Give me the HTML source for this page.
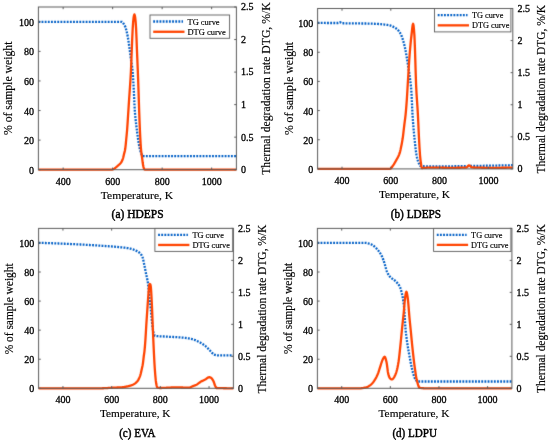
<!DOCTYPE html>
<html><head><meta charset="utf-8"><style>
html,body{margin:0;padding:0;background:#fff;}
svg{display:block;}
text{font-family:"Liberation Serif","Times New Roman",serif;fill:#000;stroke:#000;stroke-width:0.3px;}
text.cap{stroke-width:0.45px;}
text.lab{stroke-width:0.15px;}
</style></head><body>
<svg width="550" height="441" viewBox="0 0 550 441">
<defs><filter id="soft" x="0" y="0" width="550" height="441" filterUnits="userSpaceOnUse" color-interpolation-filters="sRGB"><feConvolveMatrix order="3" kernelMatrix="0.015 0.075 0.015 0.075 0.64 0.075 0.015 0.075 0.015" divisor="1" edgeMode="duplicate" preserveAlpha="true"/></filter></defs>
<g filter="url(#soft)">
<rect width="550" height="441" fill="#fff"/>
<clipPath id="clipa"><rect x="37.4" y="5.0" width="200.0" height="166.7"/></clipPath>
<g clip-path="url(#clipa)">
<path d="M38.40,21.80 L38.90,21.80 L39.40,21.80 L39.89,21.80 L40.39,21.80 L40.89,21.80 L41.39,21.80 L41.88,21.80 L42.38,21.80 L42.88,21.80 L43.38,21.80 L43.87,21.80 L44.37,21.80 L44.87,21.80 L45.37,21.80 L45.86,21.80 L46.36,21.80 L46.86,21.80 L47.36,21.80 L47.85,21.80 L48.35,21.80 L48.85,21.80 L49.35,21.80 L49.84,21.80 L50.34,21.80 L50.84,21.80 L51.34,21.80 L51.84,21.80 L52.33,21.80 L52.83,21.80 L53.33,21.80 L53.83,21.80 L54.32,21.80 L54.82,21.80 L55.32,21.80 L55.82,21.80 L56.31,21.80 L56.81,21.80 L57.31,21.80 L57.81,21.80 L58.30,21.80 L58.80,21.80 L59.30,21.80 L59.80,21.80 L60.29,21.80 L60.79,21.80 L61.29,21.80 L61.79,21.80 L62.29,21.80 L62.78,21.80 L63.28,21.80 L63.78,21.80 L64.28,21.80 L64.77,21.80 L65.27,21.80 L65.77,21.80 L66.27,21.80 L66.76,21.80 L67.26,21.80 L67.76,21.80 L68.26,21.80 L68.75,21.80 L69.25,21.80 L69.75,21.80 L70.25,21.80 L70.74,21.80 L71.24,21.80 L71.74,21.80 L72.24,21.80 L72.73,21.80 L73.23,21.80 L73.73,21.80 L74.23,21.80 L74.73,21.80 L75.22,21.80 L75.72,21.80 L76.22,21.80 L76.72,21.80 L77.21,21.80 L77.71,21.80 L78.21,21.80 L78.71,21.80 L79.20,21.80 L79.70,21.80 L80.20,21.80 L80.70,21.80 L81.19,21.80 L81.69,21.80 L82.19,21.80 L82.69,21.80 L83.18,21.80 L83.68,21.80 L84.18,21.80 L84.68,21.80 L85.17,21.80 L85.67,21.80 L86.17,21.80 L86.67,21.80 L87.17,21.80 L87.66,21.80 L88.16,21.80 L88.66,21.80 L89.16,21.80 L89.65,21.80 L90.15,21.80 L90.65,21.80 L91.15,21.80 L91.64,21.80 L92.14,21.80 L92.64,21.80 L93.14,21.80 L93.63,21.80 L94.13,21.80 L94.63,21.80 L95.13,21.80 L95.62,21.80 L96.12,21.80 L96.62,21.80 L97.12,21.80 L97.61,21.80 L98.11,21.80 L98.61,21.80 L99.11,21.80 L99.61,21.80 L100.10,21.80 L100.60,21.80 L101.10,21.80 L101.60,21.80 L102.09,21.80 L102.59,21.80 L103.09,21.80 L103.59,21.80 L104.08,21.80 L104.58,21.80 L105.08,21.80 L105.58,21.80 L106.07,21.80 L106.57,21.80 L107.07,21.80 L107.57,21.80 L108.06,21.80 L108.56,21.80 L109.06,21.80 L109.56,21.80 L110.06,21.80 L110.55,21.80 L111.05,21.80 L111.55,21.80 L112.05,21.80 L112.54,21.80 L113.04,21.80 L113.54,21.80 L114.04,21.80 L114.53,21.80 L115.03,21.80 L115.53,21.80 L116.03,21.80 L116.52,21.80 L117.02,21.80 L117.52,21.80 L118.02,21.80 L118.51,21.80 L119.01,21.80 L119.51,21.80 L120.01,21.80 L120.50,21.80 L121.00,21.80 L121.50,21.80 L121.97,21.91 L122.44,22.23 L122.91,22.71 L123.39,23.33 L123.86,24.06 L124.33,24.86 L124.80,25.70 L125.25,26.68 L125.70,27.98 L126.15,29.54 L126.60,31.31 L127.05,33.25 L127.50,35.30 L127.92,37.51 L128.34,40.12 L128.76,43.00 L129.18,46.00 L129.60,49.00 L130.05,52.34 L130.50,55.89 L130.95,59.40 L131.40,62.60 L131.85,65.12 L132.30,68.00 L132.80,73.57 L133.30,81.28 L133.80,90.00 L134.25,100.07 L134.70,109.30 L135.20,115.50 L135.70,120.45 L136.20,124.65 L136.70,128.60 L137.18,132.42 L137.67,136.11 L138.15,139.59 L138.63,142.77 L139.12,145.57 L139.60,147.90 L140.03,149.62 L140.45,151.14 L140.88,152.44 L141.30,153.50 L141.80,154.62 L142.30,155.56 L142.80,156.00 L143.24,156.07 L143.68,156.13 L144.12,156.17 L144.56,156.19 L145.00,156.20 L145.50,156.20 L146.00,156.20 L146.50,156.20 L147.00,156.20 L147.50,156.20 L148.00,156.20 L148.50,156.20 L149.00,156.20 L149.50,156.20 L149.99,156.20 L150.49,156.20 L150.99,156.20 L151.49,156.20 L151.99,156.20 L152.49,156.20 L152.99,156.20 L153.49,156.20 L153.99,156.20 L154.49,156.20 L154.99,156.20 L155.49,156.20 L155.99,156.20 L156.49,156.20 L156.99,156.20 L157.49,156.20 L157.99,156.20 L158.49,156.20 L158.98,156.20 L159.48,156.20 L159.98,156.20 L160.48,156.20 L160.98,156.20 L161.48,156.20 L161.98,156.20 L162.48,156.20 L162.98,156.20 L163.48,156.20 L163.98,156.20 L164.48,156.20 L164.98,156.20 L165.48,156.20 L165.98,156.20 L166.48,156.20 L166.98,156.20 L167.48,156.20 L167.97,156.20 L168.47,156.20 L168.97,156.20 L169.47,156.20 L169.97,156.20 L170.47,156.20 L170.97,156.20 L171.47,156.20 L171.97,156.20 L172.47,156.20 L172.97,156.20 L173.47,156.20 L173.97,156.20 L174.47,156.20 L174.97,156.20 L175.47,156.20 L175.97,156.20 L176.47,156.20 L176.97,156.20 L177.46,156.20 L177.96,156.20 L178.46,156.20 L178.96,156.20 L179.46,156.20 L179.96,156.20 L180.46,156.20 L180.96,156.20 L181.46,156.20 L181.96,156.20 L182.46,156.20 L182.96,156.20 L183.46,156.20 L183.96,156.20 L184.46,156.20 L184.96,156.20 L185.46,156.20 L185.96,156.20 L186.45,156.20 L186.95,156.20 L187.45,156.20 L187.95,156.20 L188.45,156.20 L188.95,156.20 L189.45,156.20 L189.95,156.20 L190.45,156.20 L190.95,156.20 L191.45,156.20 L191.95,156.20 L192.45,156.20 L192.95,156.20 L193.45,156.20 L193.95,156.20 L194.45,156.20 L194.95,156.20 L195.44,156.20 L195.94,156.20 L196.44,156.20 L196.94,156.20 L197.44,156.20 L197.94,156.20 L198.44,156.20 L198.94,156.20 L199.44,156.20 L199.94,156.20 L200.44,156.20 L200.94,156.20 L201.44,156.20 L201.94,156.20 L202.44,156.20 L202.94,156.20 L203.44,156.20 L203.94,156.20 L204.43,156.20 L204.93,156.20 L205.43,156.20 L205.93,156.20 L206.43,156.20 L206.93,156.20 L207.43,156.20 L207.93,156.20 L208.43,156.20 L208.93,156.20 L209.43,156.20 L209.93,156.20 L210.43,156.20 L210.93,156.20 L211.43,156.20 L211.93,156.20 L212.43,156.20 L212.93,156.20 L213.43,156.20 L213.92,156.20 L214.42,156.20 L214.92,156.20 L215.42,156.20 L215.92,156.20 L216.42,156.20 L216.92,156.20 L217.42,156.20 L217.92,156.20 L218.42,156.20 L218.92,156.20 L219.42,156.20 L219.92,156.20 L220.42,156.20 L220.92,156.20 L221.42,156.20 L221.92,156.20 L222.42,156.20 L222.91,156.20 L223.41,156.20 L223.91,156.20 L224.41,156.20 L224.91,156.20 L225.41,156.20 L225.91,156.20 L226.41,156.20 L226.91,156.20 L227.41,156.20 L227.91,156.20 L228.41,156.20 L228.91,156.20 L229.41,156.20 L229.91,156.20 L230.41,156.20 L230.91,156.20 L231.41,156.20 L231.90,156.20 L232.40,156.20 L232.90,156.20 L233.40,156.20 L233.90,156.20 L234.40,156.20 L234.90,156.20 L235.40,156.20 L235.90,156.20 L236.40,156.20" fill="none" stroke="#005fc6" stroke-width="2.3" stroke-dasharray="1.85 1.3"/>
<path d="M38.40,169.70 L38.90,169.70 L39.39,169.70 L39.89,169.70 L40.39,169.70 L40.89,169.70 L41.38,169.70 L41.88,169.70 L42.38,169.70 L42.88,169.70 L43.37,169.70 L43.87,169.70 L44.37,169.70 L44.86,169.70 L45.36,169.70 L45.86,169.70 L46.36,169.70 L46.85,169.70 L47.35,169.70 L47.85,169.70 L48.35,169.70 L48.84,169.70 L49.34,169.70 L49.84,169.70 L50.34,169.70 L50.83,169.70 L51.33,169.70 L51.83,169.70 L52.32,169.70 L52.82,169.70 L53.32,169.70 L53.82,169.70 L54.31,169.70 L54.81,169.70 L55.31,169.70 L55.81,169.70 L56.30,169.70 L56.80,169.70 L57.30,169.70 L57.79,169.70 L58.29,169.70 L58.79,169.70 L59.29,169.70 L59.78,169.70 L60.28,169.70 L60.78,169.70 L61.28,169.70 L61.77,169.70 L62.27,169.70 L62.77,169.70 L63.26,169.70 L63.76,169.70 L64.26,169.70 L64.76,169.70 L65.25,169.70 L65.75,169.70 L66.25,169.70 L66.75,169.70 L67.24,169.70 L67.74,169.70 L68.24,169.70 L68.74,169.70 L69.23,169.70 L69.73,169.70 L70.23,169.70 L70.72,169.70 L71.22,169.70 L71.72,169.70 L72.22,169.70 L72.71,169.70 L73.21,169.70 L73.71,169.70 L74.21,169.70 L74.70,169.70 L75.20,169.70 L75.70,169.70 L76.19,169.70 L76.69,169.70 L77.19,169.70 L77.69,169.70 L78.18,169.70 L78.68,169.70 L79.18,169.70 L79.68,169.70 L80.17,169.70 L80.67,169.70 L81.17,169.70 L81.66,169.70 L82.16,169.70 L82.66,169.70 L83.16,169.70 L83.65,169.70 L84.15,169.70 L84.65,169.70 L85.15,169.70 L85.64,169.70 L86.14,169.70 L86.64,169.70 L87.14,169.70 L87.63,169.70 L88.13,169.70 L88.63,169.70 L89.12,169.70 L89.62,169.70 L90.12,169.70 L90.62,169.70 L91.11,169.70 L91.61,169.70 L92.11,169.70 L92.61,169.70 L93.10,169.70 L93.60,169.70 L94.10,169.70 L94.59,169.70 L95.09,169.70 L95.59,169.70 L96.09,169.70 L96.58,169.70 L97.08,169.70 L97.58,169.70 L98.08,169.70 L98.57,169.70 L99.07,169.70 L99.57,169.70 L100.06,169.70 L100.56,169.70 L101.06,169.70 L101.56,169.70 L102.05,169.70 L102.55,169.70 L103.05,169.70 L103.55,169.70 L104.04,169.70 L104.54,169.70 L105.04,169.70 L105.54,169.70 L106.03,169.70 L106.53,169.70 L107.03,169.70 L107.52,169.70 L108.02,169.70 L108.52,169.70 L109.02,169.70 L109.51,169.70 L110.01,169.70 L110.51,169.70 L111.01,169.70 L111.50,169.70 L112.00,169.70 L112.37,169.61 L112.73,169.41 L113.10,169.20 L113.58,168.94 L114.06,168.66 L114.54,168.36 L115.02,168.04 L115.50,167.70 L115.97,167.35 L116.43,166.97 L116.90,166.57 L117.37,166.16 L117.83,165.73 L118.30,165.30 L118.78,164.87 L119.27,164.46 L119.75,164.03 L120.23,163.57 L120.72,163.03 L121.20,162.40 L121.62,161.70 L122.05,160.82 L122.48,159.78 L122.90,158.60 L123.30,157.20 L123.70,155.52 L124.10,153.80 L124.47,152.39 L124.83,150.95 L125.20,149.10 L125.70,144.81 L126.20,139.50 L126.65,135.01 L127.10,130.00 L127.60,122.86 L128.10,115.00 L128.47,109.32 L128.83,103.58 L129.20,98.00 L129.55,93.02 L129.90,88.00 L130.40,80.59 L130.90,72.00 L131.35,60.99 L131.80,49.00 L132.25,37.83 L132.70,28.50 L133.15,21.87 L133.60,17.50 L134.00,15.37 L134.40,14.40 L134.80,15.37 L135.20,17.50 L135.65,21.78 L136.10,28.50 L136.50,37.95 L136.90,49.00 L137.30,58.42 L137.70,68.00 L138.10,78.61 L138.50,90.00 L138.85,101.10 L139.20,112.00 L139.55,121.63 L139.90,130.00 L140.27,137.49 L140.63,144.08 L141.00,149.10 L141.40,152.83 L141.80,155.75 L142.20,158.60 L142.65,162.29 L143.10,165.30 L143.50,167.07 L143.90,168.47 L144.30,169.20 L144.70,169.46 L145.10,169.64 L145.50,169.70 L146.00,169.70 L146.50,169.70 L147.00,169.70 L147.50,169.70 L148.00,169.70 L148.50,169.70 L149.00,169.70 L149.50,169.70 L150.00,169.70 L150.49,169.70 L150.99,169.70 L151.49,169.70 L151.99,169.70 L152.49,169.70 L152.99,169.70 L153.49,169.70 L153.99,169.70 L154.49,169.70 L154.99,169.70 L155.49,169.70 L155.99,169.70 L156.49,169.70 L156.99,169.70 L157.49,169.70 L157.99,169.70 L158.49,169.70 L158.99,169.70 L159.48,169.70 L159.98,169.70 L160.48,169.70 L160.98,169.70 L161.48,169.70 L161.98,169.70 L162.48,169.70 L162.98,169.70 L163.48,169.70 L163.98,169.70 L164.48,169.70 L164.98,169.70 L165.48,169.70 L165.98,169.70 L166.48,169.70 L166.98,169.70 L167.48,169.70 L167.98,169.70 L168.47,169.70 L168.97,169.70 L169.47,169.70 L169.97,169.70 L170.47,169.70 L170.97,169.70 L171.47,169.70 L171.97,169.70 L172.47,169.70 L172.97,169.70 L173.47,169.70 L173.97,169.70 L174.47,169.70 L174.97,169.70 L175.47,169.70 L175.97,169.70 L176.47,169.70 L176.97,169.70 L177.46,169.70 L177.96,169.70 L178.46,169.70 L178.96,169.70 L179.46,169.70 L179.96,169.70 L180.46,169.70 L180.96,169.70 L181.46,169.70 L181.96,169.70 L182.46,169.70 L182.96,169.70 L183.46,169.70 L183.96,169.70 L184.46,169.70 L184.96,169.70 L185.46,169.70 L185.96,169.70 L186.45,169.70 L186.95,169.70 L187.45,169.70 L187.95,169.70 L188.45,169.70 L188.95,169.70 L189.45,169.70 L189.95,169.70 L190.45,169.70 L190.95,169.70 L191.45,169.70 L191.95,169.70 L192.45,169.70 L192.95,169.70 L193.45,169.70 L193.95,169.70 L194.45,169.70 L194.95,169.70 L195.45,169.70 L195.94,169.70 L196.44,169.70 L196.94,169.70 L197.44,169.70 L197.94,169.70 L198.44,169.70 L198.94,169.70 L199.44,169.70 L199.94,169.70 L200.44,169.70 L200.94,169.70 L201.44,169.70 L201.94,169.70 L202.44,169.70 L202.94,169.70 L203.44,169.70 L203.94,169.70 L204.44,169.70 L204.93,169.70 L205.43,169.70 L205.93,169.70 L206.43,169.70 L206.93,169.70 L207.43,169.70 L207.93,169.70 L208.43,169.70 L208.93,169.70 L209.43,169.70 L209.93,169.70 L210.43,169.70 L210.93,169.70 L211.43,169.70 L211.93,169.70 L212.43,169.70 L212.93,169.70 L213.43,169.70 L213.92,169.70 L214.42,169.70 L214.92,169.70 L215.42,169.70 L215.92,169.70 L216.42,169.70 L216.92,169.70 L217.42,169.70 L217.92,169.70 L218.42,169.70 L218.92,169.70 L219.42,169.70 L219.92,169.70 L220.42,169.70 L220.92,169.70 L221.42,169.70 L221.92,169.70 L222.42,169.70 L222.91,169.70 L223.41,169.70 L223.91,169.70 L224.41,169.70 L224.91,169.70 L225.41,169.70 L225.91,169.70 L226.41,169.70 L226.91,169.70 L227.41,169.70 L227.91,169.70 L228.41,169.70 L228.91,169.70 L229.41,169.70 L229.91,169.70 L230.41,169.70 L230.91,169.70 L231.41,169.70 L231.90,169.70 L232.40,169.70 L232.90,169.70 L233.40,169.70 L233.90,169.70 L234.40,169.70 L234.90,169.70 L235.40,169.70 L235.90,169.70 L236.40,169.70" fill="none" stroke="#ff4300" stroke-width="2.3" stroke-linejoin="round"/>
</g>
<rect x="38.40" y="7.00" width="198.00" height="162.70" fill="none" stroke="#5a5a5a" stroke-width="1"/>
<path d="M63.15,169.70v-2.2M63.15,7.00v2.2M112.65,169.70v-2.2M112.65,7.00v2.2M162.15,169.70v-2.2M162.15,7.00v2.2M211.65,169.70v-2.2M211.65,7.00v2.2M38.40,169.70h2.2M38.40,140.12h2.2M38.40,110.54h2.2M38.40,80.95h2.2M38.40,51.37h2.2M38.40,21.79h2.2M236.40,169.70h-2.2M236.40,137.16h-2.2M236.40,104.62h-2.2M236.40,72.08h-2.2M236.40,39.54h-2.2M236.40,7.00h-2.2" stroke="#5a5a5a" stroke-width="1" fill="none"/>
<rect x="150.00" y="15.00" width="79.60" height="23.30" fill="#fff" stroke="#5a5a5a" stroke-width="0.9"/>
<path d="M153.20,21.52H183.00" stroke="#005fc6" stroke-width="2.3" stroke-dasharray="1.85 1.3"/>
<path d="M153.20,31.78H184.50" stroke="#ff4300" stroke-width="2.3"/>
<clipPath id="clipb"><rect x="316.6" y="6.5" width="197.19999999999993" height="164.4"/></clipPath>
<g clip-path="url(#clipb)">
<path d="M317.60,22.90 L318.10,22.91 L318.60,22.91 L319.09,22.92 L319.59,22.93 L320.09,22.93 L320.59,22.94 L321.08,22.94 L321.58,22.95 L322.08,22.95 L322.58,22.96 L323.07,22.96 L323.57,22.96 L324.07,22.97 L324.57,22.97 L325.06,22.97 L325.56,22.98 L326.06,22.98 L326.56,22.98 L327.05,22.98 L327.55,22.99 L328.05,22.99 L328.55,22.99 L329.04,22.99 L329.54,22.99 L330.04,22.99 L330.54,23.00 L331.03,23.00 L331.53,23.00 L332.03,23.00 L332.53,23.00 L333.02,23.00 L333.52,23.00 L334.02,23.00 L334.52,23.00 L335.01,23.00 L335.51,23.00 L336.01,23.00 L336.51,23.00 L337.00,23.00 L337.50,23.00 L338.00,23.00 L338.50,22.89 L339.00,22.65 L339.50,22.41 L340.00,22.30 L340.50,22.44 L341.00,22.74 L341.50,23.05 L342.00,23.20 L342.50,23.22 L343.00,23.24 L343.50,23.25 L344.00,23.27 L344.50,23.28 L345.00,23.30 L345.50,23.31 L346.00,23.32 L346.50,23.33 L347.00,23.34 L347.50,23.35 L348.00,23.36 L348.50,23.37 L349.00,23.38 L349.50,23.39 L350.00,23.39 L350.50,23.40 L351.00,23.40 L351.50,23.41 L352.00,23.42 L352.50,23.42 L353.00,23.42 L353.50,23.43 L354.00,23.43 L354.50,23.43 L355.00,23.44 L355.50,23.44 L356.00,23.44 L356.50,23.45 L357.00,23.45 L357.50,23.45 L358.00,23.45 L358.50,23.46 L359.00,23.46 L359.50,23.46 L360.00,23.47 L360.50,23.47 L361.00,23.47 L361.50,23.48 L362.00,23.48 L362.50,23.48 L363.00,23.49 L363.50,23.49 L364.00,23.50 L364.50,23.50 L365.00,23.51 L365.50,23.51 L366.00,23.52 L366.50,23.53 L367.00,23.54 L367.50,23.55 L368.00,23.56 L368.50,23.57 L369.00,23.58 L369.50,23.59 L370.00,23.60 L370.49,23.61 L370.98,23.63 L371.47,23.64 L371.96,23.66 L372.45,23.68 L372.94,23.69 L373.43,23.71 L373.92,23.73 L374.41,23.76 L374.89,23.78 L375.38,23.81 L375.87,23.83 L376.36,23.86 L376.85,23.89 L377.34,23.92 L377.83,23.95 L378.32,23.98 L378.81,24.02 L379.30,24.06 L379.79,24.09 L380.28,24.13 L380.77,24.18 L381.26,24.22 L381.75,24.27 L382.24,24.31 L382.73,24.36 L383.22,24.41 L383.71,24.46 L384.19,24.52 L384.68,24.57 L385.17,24.63 L385.66,24.69 L386.15,24.76 L386.64,24.82 L387.13,24.89 L387.62,24.96 L388.11,25.03 L388.60,25.10 L389.09,25.19 L389.59,25.30 L390.08,25.43 L390.57,25.58 L391.07,25.75 L391.56,25.95 L392.05,26.16 L392.55,26.39 L393.04,26.63 L393.53,26.89 L394.03,27.17 L394.52,27.46 L395.01,27.76 L395.51,28.07 L396.00,28.40 L396.47,28.74 L396.94,29.12 L397.41,29.56 L397.88,30.04 L398.35,30.57 L398.82,31.15 L399.29,31.79 L399.76,32.47 L400.23,33.21 L400.70,34.00 L401.16,34.90 L401.62,35.98 L402.09,37.22 L402.55,38.60 L403.01,40.11 L403.47,41.72 L403.94,43.43 L404.40,45.20 L404.87,47.18 L405.33,49.43 L405.80,51.90 L406.27,54.53 L406.73,57.25 L407.20,60.00 L407.67,62.79 L408.13,65.67 L408.60,68.67 L409.07,71.81 L409.53,75.11 L410.00,78.60 L410.43,81.85 L410.87,85.41 L411.30,90.00 L411.70,97.21 L412.10,106.59 L412.50,114.60 L413.00,121.70 L413.50,127.84 L414.00,133.28 L414.50,138.30 L415.00,143.18 L415.50,147.81 L416.00,151.85 L416.50,155.00 L417.00,157.40 L417.50,159.44 L418.00,161.13 L418.50,162.50 L418.98,163.66 L419.45,164.74 L419.92,165.54 L420.40,165.90 L420.88,165.97 L421.36,166.04 L421.84,166.10 L422.32,166.15 L422.80,166.20 L423.28,166.24 L423.76,166.29 L424.24,166.32 L424.72,166.35 L425.20,166.38 L425.68,166.41 L426.16,166.43 L426.64,166.45 L427.12,166.46 L427.60,166.47 L428.08,166.48 L428.56,166.49 L429.04,166.50 L429.52,166.50 L430.00,166.50 L430.50,166.50 L431.00,166.50 L431.50,166.50 L432.00,166.50 L432.50,166.50 L433.00,166.50 L433.50,166.49 L434.00,166.49 L434.50,166.49 L435.00,166.49 L435.50,166.48 L436.00,166.48 L436.50,166.48 L437.00,166.47 L437.50,166.47 L438.00,166.47 L438.50,166.46 L439.00,166.46 L439.50,166.45 L440.00,166.45 L440.50,166.45 L441.00,166.44 L441.50,166.43 L442.00,166.43 L442.50,166.42 L443.00,166.42 L443.50,166.41 L444.00,166.41 L444.50,166.40 L445.00,166.39 L445.50,166.39 L446.00,166.38 L446.50,166.37 L447.00,166.37 L447.50,166.36 L448.00,166.35 L448.50,166.35 L449.00,166.34 L449.50,166.33 L450.00,166.32 L450.50,166.32 L451.00,166.31 L451.50,166.30 L452.00,166.29 L452.50,166.29 L453.00,166.28 L453.50,166.27 L454.00,166.26 L454.50,166.25 L455.00,166.25 L455.50,166.24 L456.00,166.23 L456.50,166.22 L457.00,166.21 L457.50,166.20 L458.00,166.20 L458.50,166.19 L459.00,166.18 L459.50,166.17 L460.00,166.16 L460.50,166.15 L461.00,166.15 L461.50,166.14 L462.00,166.13 L462.50,166.12 L463.00,166.11 L463.50,166.10 L464.00,166.10 L464.50,166.09 L465.00,166.08 L465.50,166.07 L466.00,166.06 L466.50,166.05 L467.00,166.05 L467.50,166.04 L468.00,166.03 L468.50,166.02 L469.00,166.02 L469.50,166.01 L470.00,166.00 L470.50,165.99 L471.00,165.99 L471.49,165.98 L471.99,165.97 L472.49,165.96 L472.99,165.95 L473.48,165.95 L473.98,165.94 L474.48,165.93 L474.98,165.92 L475.47,165.92 L475.97,165.91 L476.47,165.90 L476.97,165.89 L477.47,165.88 L477.96,165.87 L478.46,165.87 L478.96,165.86 L479.46,165.85 L479.95,165.84 L480.45,165.83 L480.95,165.82 L481.45,165.82 L481.94,165.81 L482.44,165.80 L482.94,165.79 L483.44,165.78 L483.93,165.77 L484.43,165.76 L484.93,165.76 L485.43,165.75 L485.93,165.74 L486.42,165.73 L486.92,165.72 L487.42,165.71 L487.92,165.70 L488.41,165.69 L488.91,165.68 L489.41,165.67 L489.91,165.67 L490.40,165.66 L490.90,165.65 L491.40,165.64 L491.90,165.63 L492.40,165.62 L492.89,165.61 L493.39,165.60 L493.89,165.59 L494.39,165.58 L494.88,165.57 L495.38,165.56 L495.88,165.55 L496.38,165.54 L496.87,165.53 L497.37,165.52 L497.87,165.51 L498.37,165.50 L498.87,165.49 L499.36,165.48 L499.86,165.47 L500.36,165.46 L500.86,165.45 L501.35,165.44 L501.85,165.43 L502.35,165.42 L502.85,165.41 L503.34,165.40 L503.84,165.39 L504.34,165.38 L504.84,165.37 L505.33,165.36 L505.83,165.35 L506.33,165.34 L506.83,165.33 L507.33,165.32 L507.82,165.31 L508.32,165.30 L508.82,165.29 L509.32,165.28 L509.81,165.26 L510.31,165.25 L510.81,165.24 L511.31,165.23 L511.80,165.22 L512.30,165.21 L512.80,165.20" fill="none" stroke="#005fc6" stroke-width="2.3" stroke-dasharray="1.85 1.3"/>
<path d="M317.60,168.90 L318.10,168.90 L318.60,168.90 L319.10,168.90 L319.59,168.90 L320.09,168.90 L320.59,168.90 L321.09,168.90 L321.59,168.90 L322.09,168.90 L322.59,168.90 L323.08,168.90 L323.58,168.90 L324.08,168.90 L324.58,168.90 L325.08,168.90 L325.58,168.90 L326.08,168.90 L326.58,168.90 L327.07,168.90 L327.57,168.90 L328.07,168.90 L328.57,168.90 L329.07,168.90 L329.57,168.90 L330.07,168.90 L330.56,168.90 L331.06,168.90 L331.56,168.90 L332.06,168.90 L332.56,168.90 L333.06,168.90 L333.56,168.90 L334.05,168.90 L334.55,168.90 L335.05,168.90 L335.55,168.90 L336.05,168.90 L336.55,168.90 L337.05,168.90 L337.54,168.90 L338.04,168.90 L338.54,168.90 L339.04,168.90 L339.54,168.90 L340.04,168.90 L340.54,168.90 L341.04,168.90 L341.53,168.90 L342.03,168.90 L342.53,168.90 L343.03,168.90 L343.53,168.90 L344.03,168.90 L344.53,168.90 L345.02,168.90 L345.52,168.90 L346.02,168.90 L346.52,168.90 L347.02,168.90 L347.52,168.90 L348.02,168.90 L348.51,168.90 L349.01,168.90 L349.51,168.90 L350.01,168.90 L350.51,168.90 L351.01,168.90 L351.51,168.90 L352.00,168.90 L352.50,168.90 L353.00,168.90 L353.50,168.90 L354.00,168.90 L354.50,168.90 L355.00,168.90 L355.50,168.90 L355.99,168.90 L356.49,168.90 L356.99,168.90 L357.49,168.90 L357.99,168.90 L358.49,168.90 L358.99,168.90 L359.48,168.90 L359.98,168.90 L360.48,168.90 L360.98,168.90 L361.48,168.90 L361.98,168.90 L362.48,168.90 L362.97,168.90 L363.47,168.90 L363.97,168.90 L364.47,168.90 L364.97,168.90 L365.47,168.90 L365.97,168.90 L366.46,168.90 L366.96,168.90 L367.46,168.90 L367.96,168.90 L368.46,168.90 L368.96,168.90 L369.46,168.90 L369.96,168.90 L370.45,168.90 L370.95,168.90 L371.45,168.90 L371.95,168.90 L372.45,168.90 L372.95,168.90 L373.45,168.90 L373.94,168.90 L374.44,168.90 L374.94,168.90 L375.44,168.90 L375.94,168.90 L376.44,168.90 L376.94,168.90 L377.43,168.90 L377.93,168.90 L378.43,168.90 L378.93,168.90 L379.43,168.90 L379.93,168.90 L380.43,168.90 L380.92,168.90 L381.42,168.90 L381.92,168.90 L382.42,168.90 L382.92,168.90 L383.42,168.90 L383.92,168.90 L384.42,168.90 L384.91,168.90 L385.41,168.90 L385.91,168.90 L386.41,168.90 L386.91,168.90 L387.41,168.90 L387.91,168.90 L388.40,168.90 L388.90,168.90 L389.40,168.90 L389.90,168.90 L390.38,168.76 L390.87,168.39 L391.35,167.86 L391.83,167.22 L392.32,166.55 L392.80,165.90 L393.30,165.22 L393.80,164.47 L394.30,163.65 L394.80,162.79 L395.30,161.90 L395.80,161.00 L396.29,160.14 L396.77,159.30 L397.26,158.44 L397.75,157.55 L398.24,156.59 L398.73,155.53 L399.21,154.35 L399.70,153.00 L400.10,151.61 L400.50,149.89 L400.90,147.97 L401.30,146.00 L401.77,143.67 L402.23,141.16 L402.70,138.30 L403.10,135.35 L403.50,131.96 L403.90,128.42 L404.30,125.00 L404.73,121.67 L405.17,118.38 L405.60,114.60 L406.00,110.35 L406.40,105.44 L406.80,100.00 L407.25,92.74 L407.70,85.00 L408.18,77.09 L408.65,69.14 L409.12,61.61 L409.60,55.00 L410.08,49.24 L410.55,43.99 L411.02,39.23 L411.50,35.00 L411.90,31.37 L412.30,27.73 L412.70,24.92 L413.10,23.80 L413.53,25.40 L413.97,29.48 L414.40,35.00 L414.85,45.72 L415.30,60.00 L415.70,73.20 L416.10,85.00 L416.55,93.71 L417.00,100.61 L417.45,107.10 L417.90,114.60 L418.27,122.29 L418.63,130.63 L419.00,138.30 L419.50,147.55 L420.00,155.00 L420.45,159.53 L420.90,163.00 L421.35,166.27 L421.80,168.00 L422.28,168.00 L422.76,167.98 L423.25,167.97 L423.73,167.94 L424.21,167.92 L424.69,167.89 L425.18,167.85 L425.66,167.82 L426.14,167.78 L426.62,167.75 L427.11,167.71 L427.59,167.68 L428.07,167.66 L428.55,167.63 L429.04,167.62 L429.52,167.60 L430.00,167.60 L430.50,167.60 L431.00,167.60 L431.50,167.60 L432.00,167.61 L432.50,167.61 L433.00,167.61 L433.50,167.62 L434.00,167.62 L434.50,167.63 L435.00,167.63 L435.50,167.64 L436.00,167.64 L436.50,167.65 L437.00,167.66 L437.50,167.66 L438.00,167.67 L438.50,167.68 L439.00,167.69 L439.50,167.69 L440.00,167.70 L440.50,167.71 L441.00,167.71 L441.50,167.72 L442.00,167.73 L442.50,167.74 L443.00,167.74 L443.50,167.75 L444.00,167.76 L444.50,167.76 L445.00,167.77 L445.50,167.77 L446.00,167.78 L446.50,167.78 L447.00,167.79 L447.50,167.79 L448.00,167.79 L448.50,167.80 L449.00,167.80 L449.50,167.80 L450.00,167.80 L450.50,167.80 L451.00,167.80 L451.50,167.80 L452.00,167.80 L452.50,167.80 L453.00,167.80 L453.50,167.79 L454.00,167.79 L454.50,167.79 L455.00,167.79 L455.50,167.78 L456.00,167.78 L456.50,167.78 L457.00,167.77 L457.50,167.77 L458.00,167.76 L458.50,167.76 L459.00,167.75 L459.50,167.74 L460.00,167.74 L460.50,167.73 L461.00,167.72 L461.50,167.71 L462.00,167.70 L462.50,167.69 L463.00,167.68 L463.50,167.67 L464.00,167.66 L464.50,167.64 L465.00,167.63 L465.50,167.62 L466.00,167.60 L466.50,167.43 L467.00,167.02 L467.50,166.49 L468.00,165.96 L468.50,165.56 L469.00,165.40 L469.50,165.54 L470.00,165.91 L470.50,166.38 L471.00,166.86 L471.50,167.23 L472.00,167.40 L472.50,167.43 L473.00,167.45 L473.50,167.48 L474.00,167.50 L474.50,167.52 L475.00,167.54 L475.50,167.57 L476.00,167.58 L476.50,167.60 L477.00,167.62 L477.50,167.64 L478.00,167.65 L478.50,167.67 L479.00,167.68 L479.50,167.69 L480.00,167.70 L480.50,167.71 L481.00,167.72 L481.50,167.73 L482.00,167.74 L482.50,167.75 L483.00,167.76 L483.50,167.76 L484.00,167.77 L484.50,167.78 L485.00,167.78 L485.50,167.78 L486.00,167.79 L486.50,167.79 L487.00,167.79 L487.50,167.80 L488.00,167.80 L488.50,167.80 L489.00,167.80 L489.50,167.80 L490.00,167.80 L490.50,167.80 L490.99,167.80 L491.49,167.80 L491.98,167.80 L492.48,167.80 L492.97,167.80 L493.47,167.80 L493.97,167.80 L494.46,167.80 L494.96,167.80 L495.45,167.80 L495.95,167.80 L496.44,167.80 L496.94,167.79 L497.43,167.79 L497.93,167.79 L498.43,167.79 L498.92,167.79 L499.42,167.79 L499.91,167.78 L500.41,167.78 L500.90,167.78 L501.40,167.77 L501.90,167.77 L502.39,167.77 L502.89,167.76 L503.38,167.76 L503.88,167.75 L504.37,167.75 L504.87,167.74 L505.37,167.74 L505.86,167.73 L506.36,167.73 L506.85,167.72 L507.35,167.71 L507.84,167.70 L508.34,167.70 L508.83,167.69 L509.33,167.68 L509.83,167.67 L510.32,167.66 L510.82,167.65 L511.31,167.64 L511.81,167.62 L512.30,167.61 L512.80,167.60" fill="none" stroke="#ff4300" stroke-width="2.3" stroke-linejoin="round"/>
</g>
<rect x="317.60" y="8.50" width="195.20" height="160.40" fill="none" stroke="#5a5a5a" stroke-width="1"/>
<path d="M342.00,168.90v-2.2M342.00,8.50v2.2M390.80,168.90v-2.2M390.80,8.50v2.2M439.60,168.90v-2.2M439.60,8.50v2.2M488.40,168.90v-2.2M488.40,8.50v2.2M317.60,168.90h2.2M317.60,139.74h2.2M317.60,110.57h2.2M317.60,81.41h2.2M317.60,52.25h2.2M317.60,23.08h2.2M512.80,168.90h-2.2M512.80,136.82h-2.2M512.80,104.74h-2.2M512.80,72.66h-2.2M512.80,40.58h-2.2M512.80,8.50h-2.2" stroke="#5a5a5a" stroke-width="1" fill="none"/>
<rect x="434.50" y="8.50" width="76.40" height="23.40" fill="#fff" stroke="#5a5a5a" stroke-width="0.9"/>
<path d="M437.70,15.05H467.50" stroke="#005fc6" stroke-width="2.3" stroke-dasharray="1.85 1.3"/>
<path d="M437.70,25.35H469.00" stroke="#ff4300" stroke-width="2.3"/>
<clipPath id="clipc"><rect x="37.6" y="226.4" width="196.8" height="163.9"/></clipPath>
<g clip-path="url(#clipc)">
<path d="M38.60,242.80 L39.10,242.81 L39.59,242.83 L40.09,242.84 L40.59,242.86 L41.09,242.87 L41.58,242.89 L42.08,242.90 L42.58,242.92 L43.08,242.93 L43.57,242.95 L44.07,242.97 L44.57,242.98 L45.06,243.00 L45.56,243.01 L46.06,243.03 L46.56,243.05 L47.05,243.07 L47.55,243.08 L48.05,243.10 L48.54,243.12 L49.04,243.13 L49.54,243.15 L50.04,243.17 L50.53,243.19 L51.03,243.21 L51.53,243.22 L52.03,243.24 L52.52,243.26 L53.02,243.28 L53.52,243.30 L54.01,243.32 L54.51,243.34 L55.01,243.36 L55.51,243.38 L56.00,243.39 L56.50,243.41 L57.00,243.43 L57.49,243.45 L57.99,243.47 L58.49,243.49 L58.99,243.51 L59.48,243.54 L59.98,243.56 L60.48,243.58 L60.98,243.60 L61.47,243.62 L61.97,243.64 L62.47,243.66 L62.96,243.68 L63.46,243.70 L63.96,243.72 L64.46,243.75 L64.95,243.77 L65.45,243.79 L65.95,243.81 L66.44,243.83 L66.94,243.86 L67.44,243.88 L67.94,243.90 L68.43,243.92 L68.93,243.95 L69.43,243.97 L69.93,243.99 L70.42,244.01 L70.92,244.04 L71.42,244.06 L71.91,244.08 L72.41,244.11 L72.91,244.13 L73.41,244.15 L73.90,244.18 L74.40,244.20 L74.90,244.22 L75.39,244.25 L75.89,244.27 L76.39,244.30 L76.89,244.32 L77.38,244.34 L77.88,244.37 L78.38,244.39 L78.88,244.42 L79.37,244.45 L79.87,244.47 L80.37,244.50 L80.86,244.52 L81.36,244.55 L81.86,244.57 L82.36,244.60 L82.85,244.63 L83.35,244.65 L83.85,244.68 L84.35,244.71 L84.84,244.74 L85.34,244.76 L85.84,244.79 L86.33,244.82 L86.83,244.85 L87.33,244.87 L87.83,244.90 L88.32,244.93 L88.82,244.96 L89.32,244.99 L89.82,245.02 L90.31,245.05 L90.81,245.08 L91.31,245.11 L91.80,245.14 L92.30,245.17 L92.80,245.20 L93.30,245.23 L93.79,245.26 L94.29,245.29 L94.79,245.32 L95.28,245.35 L95.78,245.38 L96.28,245.41 L96.78,245.44 L97.27,245.48 L97.77,245.51 L98.27,245.54 L98.77,245.57 L99.26,245.60 L99.76,245.64 L100.26,245.67 L100.75,245.70 L101.25,245.74 L101.75,245.77 L102.25,245.80 L102.74,245.84 L103.24,245.87 L103.74,245.90 L104.24,245.94 L104.73,245.97 L105.23,246.01 L105.73,246.04 L106.22,246.08 L106.72,246.11 L107.22,246.15 L107.72,246.18 L108.21,246.22 L108.71,246.25 L109.21,246.29 L109.71,246.33 L110.20,246.36 L110.70,246.40 L111.19,246.44 L111.68,246.47 L112.17,246.51 L112.66,246.55 L113.15,246.59 L113.64,246.62 L114.13,246.66 L114.62,246.70 L115.11,246.74 L115.59,246.78 L116.08,246.83 L116.57,246.87 L117.06,246.91 L117.55,246.96 L118.04,247.00 L118.53,247.05 L119.02,247.10 L119.51,247.15 L120.00,247.20 L120.48,247.25 L120.97,247.30 L121.45,247.35 L121.94,247.40 L122.42,247.45 L122.91,247.51 L123.39,247.56 L123.88,247.62 L124.36,247.67 L124.85,247.73 L125.33,247.79 L125.82,247.86 L126.30,247.93 L126.79,248.00 L127.27,248.07 L127.76,248.15 L128.25,248.23 L128.73,248.31 L129.21,248.40 L129.70,248.50 L130.18,248.60 L130.66,248.71 L131.14,248.83 L131.62,248.97 L132.11,249.11 L132.59,249.26 L133.07,249.42 L133.55,249.60 L134.03,249.78 L134.51,249.98 L134.99,250.19 L135.47,250.41 L135.96,250.64 L136.44,250.88 L136.92,251.13 L137.40,251.40 L137.88,251.68 L138.36,251.98 L138.84,252.30 L139.32,252.67 L139.80,253.08 L140.28,253.55 L140.76,254.09 L141.24,254.70 L141.72,255.40 L142.20,256.20 L142.67,257.49 L143.15,259.44 L143.62,261.73 L144.10,264.00 L144.57,266.27 L145.05,268.70 L145.53,271.18 L146.00,273.60 L146.50,275.87 L147.00,277.99 L147.50,280.34 L148.00,283.30 L148.43,287.22 L148.87,292.18 L149.30,296.80 L149.70,300.24 L150.10,303.38 L150.50,306.53 L150.90,310.00 L151.37,315.01 L151.83,320.45 L152.30,325.00 L152.70,328.03 L153.10,330.64 L153.50,332.50 L153.97,334.06 L154.43,335.27 L154.90,335.80 L155.40,335.88 L155.89,335.96 L156.39,336.03 L156.88,336.09 L157.38,336.14 L157.87,336.19 L158.37,336.23 L158.87,336.27 L159.36,336.30 L159.86,336.33 L160.35,336.35 L160.85,336.37 L161.34,336.39 L161.84,336.41 L162.33,336.43 L162.83,336.45 L163.33,336.46 L163.82,336.48 L164.32,336.50 L164.81,336.52 L165.31,336.54 L165.80,336.57 L166.30,336.60 L166.79,336.63 L167.29,336.66 L167.78,336.69 L168.28,336.72 L168.77,336.75 L169.26,336.78 L169.76,336.80 L170.25,336.83 L170.75,336.86 L171.24,336.88 L171.73,336.91 L172.23,336.93 L172.72,336.96 L173.22,336.98 L173.71,337.01 L174.20,337.03 L174.70,337.06 L175.19,337.08 L175.68,337.11 L176.18,337.14 L176.67,337.17 L177.17,337.20 L177.66,337.23 L178.15,337.26 L178.65,337.29 L179.14,337.32 L179.64,337.36 L180.13,337.39 L180.62,337.43 L181.12,337.47 L181.61,337.51 L182.11,337.56 L182.60,337.60 L183.09,337.65 L183.58,337.70 L184.07,337.75 L184.56,337.81 L185.05,337.87 L185.54,337.93 L186.03,338.00 L186.52,338.07 L187.01,338.14 L187.50,338.22 L187.99,338.30 L188.48,338.38 L188.97,338.47 L189.46,338.56 L189.95,338.66 L190.44,338.76 L190.93,338.86 L191.42,338.97 L191.91,339.08 L192.40,339.20 L192.87,339.32 L193.34,339.46 L193.81,339.62 L194.29,339.79 L194.76,339.98 L195.23,340.17 L195.70,340.38 L196.17,340.60 L196.64,340.82 L197.11,341.05 L197.59,341.28 L198.06,341.52 L198.53,341.76 L199.00,342.00 L199.50,342.26 L200.00,342.52 L200.50,342.80 L201.00,343.08 L201.50,343.37 L202.00,343.67 L202.50,343.98 L203.00,344.31 L203.50,344.64 L204.00,344.99 L204.50,345.35 L205.00,345.72 L205.50,346.10 L205.99,346.51 L206.48,346.95 L206.97,347.43 L207.46,347.93 L207.95,348.44 L208.44,348.97 L208.93,349.49 L209.42,350.01 L209.91,350.52 L210.40,351.00 L210.90,351.51 L211.40,352.06 L211.90,352.62 L212.40,353.17 L212.90,353.68 L213.40,354.12 L213.90,354.47 L214.40,354.70 L214.85,354.84 L215.30,354.97 L215.75,355.09 L216.20,355.19 L216.65,355.28 L217.10,355.34 L217.55,355.39 L218.00,355.40 L218.50,355.40 L218.99,355.40 L219.49,355.40 L219.99,355.40 L220.48,355.40 L220.98,355.40 L221.48,355.40 L221.97,355.40 L222.47,355.40 L222.97,355.40 L223.46,355.40 L223.96,355.40 L224.46,355.40 L224.95,355.40 L225.45,355.40 L225.95,355.40 L226.45,355.40 L226.94,355.40 L227.44,355.40 L227.94,355.40 L228.43,355.40 L228.93,355.40 L229.43,355.40 L229.92,355.40 L230.42,355.40 L230.92,355.40 L231.41,355.40 L231.91,355.40 L232.41,355.40 L232.90,355.40 L233.40,355.40" fill="none" stroke="#005fc6" stroke-width="2.3" stroke-dasharray="1.85 1.3"/>
<path d="M38.60,388.30 L39.10,388.30 L39.60,388.30 L40.10,388.30 L40.60,388.30 L41.10,388.30 L41.60,388.30 L42.09,388.30 L42.59,388.30 L43.09,388.30 L43.59,388.30 L44.09,388.30 L44.59,388.30 L45.09,388.30 L45.59,388.30 L46.09,388.30 L46.59,388.30 L47.09,388.30 L47.59,388.30 L48.08,388.30 L48.58,388.30 L49.08,388.30 L49.58,388.30 L50.08,388.30 L50.58,388.30 L51.08,388.30 L51.58,388.30 L52.08,388.30 L52.58,388.30 L53.08,388.30 L53.58,388.30 L54.07,388.30 L54.57,388.30 L55.07,388.30 L55.57,388.30 L56.07,388.30 L56.57,388.30 L57.07,388.30 L57.57,388.30 L58.07,388.30 L58.57,388.30 L59.07,388.30 L59.57,388.30 L60.07,388.30 L60.56,388.30 L61.06,388.30 L61.56,388.30 L62.06,388.30 L62.56,388.30 L63.06,388.30 L63.56,388.30 L64.06,388.30 L64.56,388.30 L65.06,388.30 L65.56,388.30 L66.06,388.30 L66.55,388.30 L67.05,388.30 L67.55,388.30 L68.05,388.30 L68.55,388.30 L69.05,388.30 L69.55,388.30 L70.05,388.30 L70.55,388.30 L71.05,388.30 L71.55,388.30 L72.05,388.30 L72.54,388.30 L73.04,388.30 L73.54,388.30 L74.04,388.30 L74.54,388.30 L75.04,388.30 L75.54,388.30 L76.04,388.30 L76.54,388.30 L77.04,388.30 L77.54,388.30 L78.04,388.30 L78.53,388.30 L79.03,388.30 L79.53,388.30 L80.03,388.30 L80.53,388.30 L81.03,388.30 L81.53,388.30 L82.03,388.30 L82.53,388.30 L83.03,388.30 L83.53,388.30 L84.03,388.30 L84.53,388.30 L85.02,388.30 L85.52,388.30 L86.02,388.30 L86.52,388.30 L87.02,388.30 L87.52,388.30 L88.02,388.30 L88.52,388.30 L89.02,388.30 L89.52,388.30 L90.02,388.30 L90.52,388.30 L91.01,388.30 L91.51,388.30 L92.01,388.30 L92.51,388.30 L93.01,388.30 L93.51,388.30 L94.01,388.30 L94.51,388.30 L95.01,388.30 L95.51,388.30 L96.01,388.30 L96.51,388.30 L97.00,388.30 L97.50,388.30 L98.00,388.30 L98.50,388.30 L99.00,388.30 L99.50,388.30 L100.00,388.30 L100.50,388.30 L101.00,388.29 L101.50,388.29 L102.00,388.28 L102.50,388.26 L103.00,388.25 L103.50,388.23 L104.00,388.21 L104.50,388.19 L105.00,388.17 L105.50,388.14 L106.00,388.12 L106.50,388.09 L107.00,388.06 L107.50,388.03 L108.00,388.00 L108.50,387.97 L109.00,387.94 L109.50,387.91 L110.00,387.88 L110.50,387.85 L111.00,387.82 L111.50,387.79 L112.00,387.76 L112.50,387.73 L113.00,387.70 L113.50,387.67 L114.00,387.65 L114.50,387.62 L115.00,387.60 L115.50,387.58 L116.00,387.56 L116.50,387.54 L117.00,387.52 L117.50,387.51 L118.00,387.49 L118.50,387.47 L119.00,387.45 L119.50,387.44 L120.00,387.41 L120.50,387.39 L121.00,387.36 L121.50,387.33 L122.00,387.30 L122.48,387.26 L122.96,387.21 L123.44,387.14 L123.92,387.07 L124.40,386.98 L124.88,386.89 L125.36,386.80 L125.84,386.70 L126.32,386.60 L126.80,386.50 L127.29,386.40 L127.78,386.29 L128.28,386.18 L128.77,386.06 L129.26,385.94 L129.75,385.81 L130.24,385.67 L130.73,385.52 L131.22,385.36 L131.72,385.19 L132.21,385.00 L132.70,384.80 L133.17,384.59 L133.64,384.34 L134.11,384.07 L134.58,383.77 L135.05,383.43 L135.52,383.06 L135.99,382.65 L136.46,382.20 L136.93,381.72 L137.40,381.20 L137.88,380.57 L138.37,379.79 L138.85,378.86 L139.33,377.80 L139.82,376.61 L140.30,375.30 L140.80,373.54 L141.30,371.33 L141.80,369.00 L142.17,367.37 L142.53,365.65 L142.90,363.60 L143.35,359.95 L143.80,356.00 L144.10,353.97 L144.40,351.80 L144.90,346.56 L145.40,340.00 L145.85,332.72 L146.30,325.00 L146.80,317.36 L147.30,310.00 L147.75,303.31 L148.20,297.00 L148.60,291.72 L149.00,287.50 L149.30,285.17 L149.60,284.00 L149.95,284.11 L150.30,284.40 L150.60,285.44 L150.90,287.50 L151.20,291.47 L151.50,297.00 L151.85,304.00 L152.20,312.00 L152.50,319.94 L152.80,328.00 L153.10,335.06 L153.40,341.70 L153.90,352.73 L154.40,362.50 L154.85,369.54 L155.30,375.30 L155.75,380.15 L156.20,383.60 L156.60,385.50 L157.00,386.95 L157.40,387.60 L157.83,387.73 L158.27,387.83 L158.70,387.91 L159.13,387.96 L159.57,387.99 L160.00,388.00 L160.50,388.00 L161.00,387.99 L161.50,387.98 L162.00,387.97 L162.50,387.96 L163.00,387.94 L163.50,387.92 L164.00,387.89 L164.50,387.87 L165.00,387.84 L165.50,387.82 L166.00,387.79 L166.50,387.76 L167.00,387.73 L167.50,387.70 L168.00,387.67 L168.50,387.64 L169.00,387.61 L169.50,387.58 L170.00,387.56 L170.50,387.53 L171.00,387.51 L171.50,387.48 L172.00,387.46 L172.50,387.44 L173.00,387.43 L173.50,387.42 L174.00,387.41 L174.50,387.40 L175.00,387.40 L175.49,387.40 L175.98,387.40 L176.47,387.41 L176.96,387.41 L177.45,387.42 L177.94,387.42 L178.43,387.43 L178.92,387.44 L179.41,387.45 L179.90,387.45 L180.39,387.46 L180.88,387.47 L181.37,387.48 L181.86,387.49 L182.34,387.51 L182.83,387.52 L183.32,387.53 L183.81,387.54 L184.30,387.55 L184.79,387.55 L185.28,387.56 L185.77,387.57 L186.26,387.58 L186.75,387.58 L187.24,387.59 L187.73,387.59 L188.22,387.60 L188.71,387.60 L189.20,387.60 L189.67,387.54 L190.13,387.40 L190.60,387.19 L191.07,386.95 L191.53,386.71 L192.00,386.50 L192.49,386.31 L192.98,386.12 L193.47,385.94 L193.96,385.75 L194.44,385.56 L194.93,385.37 L195.42,385.16 L195.91,384.94 L196.40,384.70 L196.86,384.45 L197.32,384.16 L197.78,383.85 L198.24,383.53 L198.70,383.19 L199.16,382.85 L199.62,382.51 L200.08,382.19 L200.54,381.88 L201.00,381.60 L201.46,381.35 L201.92,381.11 L202.38,380.89 L202.84,380.67 L203.30,380.46 L203.76,380.25 L204.22,380.03 L204.68,379.81 L205.14,379.56 L205.60,379.30 L206.08,378.97 L206.56,378.58 L207.04,378.19 L207.52,377.85 L208.00,377.60 L208.50,377.41 L209.00,377.26 L209.50,377.20 L210.00,377.29 L210.50,377.51 L211.00,377.80 L211.50,378.22 L212.00,378.81 L212.50,379.50 L212.87,380.07 L213.23,380.74 L213.60,381.50 L214.07,382.77 L214.53,384.25 L215.00,385.50 L215.50,386.61 L216.00,387.58 L216.50,388.00 L217.00,388.02 L217.49,388.05 L217.99,388.07 L218.49,388.09 L218.99,388.10 L219.48,388.12 L219.98,388.14 L220.48,388.15 L220.97,388.17 L221.47,388.18 L221.97,388.19 L222.46,388.21 L222.96,388.22 L223.46,388.23 L223.96,388.24 L224.45,388.24 L224.95,388.25 L225.45,388.26 L225.94,388.27 L226.44,388.27 L226.94,388.28 L227.44,388.28 L227.93,388.28 L228.43,388.29 L228.93,388.29 L229.42,388.29 L229.92,388.29 L230.42,388.30 L230.91,388.30 L231.41,388.30 L231.91,388.30 L232.41,388.30 L232.90,388.30 L233.40,388.30" fill="none" stroke="#ff4300" stroke-width="2.3" stroke-linejoin="round"/>
</g>
<rect x="38.60" y="228.40" width="194.80" height="159.90" fill="none" stroke="#5a5a5a" stroke-width="1"/>
<path d="M62.95,388.30v-2.2M62.95,228.40v2.2M111.65,388.30v-2.2M111.65,228.40v2.2M160.35,388.30v-2.2M160.35,228.40v2.2M209.05,388.30v-2.2M209.05,228.40v2.2M38.60,388.30h2.2M38.60,359.23h2.2M38.60,330.15h2.2M38.60,301.08h2.2M38.60,272.01h2.2M38.60,242.94h2.2M233.40,388.30h-2.2M233.40,356.32h-2.2M233.40,324.34h-2.2M233.40,292.36h-2.2M233.40,260.38h-2.2M233.40,228.40h-2.2" stroke="#5a5a5a" stroke-width="1" fill="none"/>
<rect x="154.90" y="228.40" width="77.80" height="23.00" fill="#fff" stroke="#5a5a5a" stroke-width="0.9"/>
<path d="M158.10,234.84H187.90" stroke="#005fc6" stroke-width="2.3" stroke-dasharray="1.85 1.3"/>
<path d="M158.10,244.96H189.40" stroke="#ff4300" stroke-width="2.3"/>
<clipPath id="clipd"><rect x="316.4" y="226.4" width="196.5" height="163.9"/></clipPath>
<g clip-path="url(#clipd)">
<path d="M317.40,242.80 L317.90,242.80 L318.40,242.80 L318.90,242.80 L319.40,242.80 L319.89,242.80 L320.39,242.80 L320.89,242.80 L321.39,242.80 L321.89,242.80 L322.39,242.80 L322.89,242.80 L323.39,242.80 L323.89,242.80 L324.39,242.80 L324.88,242.80 L325.38,242.80 L325.88,242.80 L326.38,242.80 L326.88,242.80 L327.38,242.80 L327.88,242.80 L328.38,242.80 L328.88,242.80 L329.37,242.80 L329.87,242.80 L330.37,242.80 L330.87,242.80 L331.37,242.80 L331.87,242.80 L332.37,242.80 L332.87,242.80 L333.37,242.80 L333.86,242.80 L334.36,242.80 L334.86,242.80 L335.36,242.80 L335.86,242.80 L336.36,242.80 L336.86,242.80 L337.36,242.80 L337.86,242.80 L338.36,242.80 L338.85,242.80 L339.35,242.80 L339.85,242.80 L340.35,242.80 L340.85,242.80 L341.35,242.80 L341.85,242.80 L342.35,242.80 L342.85,242.80 L343.34,242.80 L343.84,242.80 L344.34,242.80 L344.84,242.80 L345.34,242.80 L345.84,242.80 L346.34,242.80 L346.84,242.80 L347.34,242.80 L347.84,242.80 L348.33,242.80 L348.83,242.80 L349.33,242.80 L349.83,242.80 L350.33,242.80 L350.83,242.80 L351.33,242.80 L351.83,242.80 L352.33,242.80 L352.82,242.80 L353.32,242.80 L353.82,242.80 L354.32,242.80 L354.82,242.80 L355.32,242.80 L355.82,242.80 L356.32,242.80 L356.82,242.80 L357.31,242.80 L357.81,242.80 L358.31,242.80 L358.81,242.80 L359.31,242.80 L359.81,242.80 L360.31,242.80 L360.81,242.80 L361.31,242.80 L361.81,242.80 L362.30,242.80 L362.80,242.80 L363.30,242.80 L363.80,242.80 L364.30,242.80 L364.78,242.81 L365.26,242.84 L365.74,242.89 L366.22,242.96 L366.70,243.04 L367.18,243.14 L367.66,243.25 L368.14,243.37 L368.62,243.51 L369.10,243.66 L369.58,243.81 L370.06,243.98 L370.54,244.15 L371.02,244.32 L371.50,244.50 L372.00,244.72 L372.50,245.00 L373.00,245.32 L373.50,245.70 L374.00,246.11 L374.50,246.56 L375.00,247.03 L375.50,247.53 L376.00,248.04 L376.50,248.57 L377.00,249.10 L377.50,249.65 L378.00,250.23 L378.50,250.84 L379.00,251.50 L379.50,252.20 L380.00,252.95 L380.50,253.74 L381.00,254.59 L381.50,255.50 L381.97,256.45 L382.43,257.54 L382.90,258.73 L383.37,260.01 L383.83,261.34 L384.30,262.70 L384.75,264.14 L385.20,265.77 L385.65,267.47 L386.10,269.12 L386.55,270.60 L387.00,271.80 L387.45,272.78 L387.90,273.67 L388.35,274.48 L388.80,275.20 L389.25,275.84 L389.70,276.40 L390.20,276.94 L390.70,277.42 L391.20,277.84 L391.70,278.23 L392.20,278.59 L392.70,278.94 L393.20,279.28 L393.70,279.64 L394.20,280.02 L394.70,280.44 L395.20,280.90 L395.70,281.39 L396.20,281.87 L396.70,282.36 L397.20,282.88 L397.70,283.43 L398.20,284.05 L398.70,284.74 L399.20,285.52 L399.70,286.40 L400.16,287.43 L400.62,288.75 L401.08,290.31 L401.54,292.08 L402.00,294.00 L402.48,296.18 L402.95,298.71 L403.42,301.74 L403.90,305.40 L404.35,310.71 L404.80,317.87 L405.25,325.15 L405.70,330.80 L406.18,335.04 L406.65,338.82 L407.12,342.23 L407.60,345.33 L408.07,348.19 L408.55,350.89 L409.02,353.50 L409.50,356.10 L409.98,358.70 L410.45,361.25 L410.93,363.72 L411.40,366.09 L411.88,368.32 L412.35,370.38 L412.82,372.25 L413.30,373.90 L413.74,375.29 L414.18,376.60 L414.62,377.77 L415.06,378.75 L415.50,379.50 L415.92,380.08 L416.34,380.62 L416.76,381.07 L417.18,381.38 L417.60,381.50 L418.10,381.50 L418.59,381.50 L419.09,381.50 L419.58,381.50 L420.08,381.50 L420.58,381.50 L421.07,381.50 L421.57,381.50 L422.06,381.50 L422.56,381.50 L423.06,381.50 L423.55,381.50 L424.05,381.50 L424.54,381.50 L425.04,381.50 L425.54,381.50 L426.03,381.50 L426.53,381.50 L427.02,381.50 L427.52,381.50 L428.02,381.50 L428.51,381.50 L429.01,381.50 L429.50,381.50 L430.00,381.50 L430.50,381.50 L431.00,381.50 L431.50,381.50 L432.00,381.50 L432.50,381.50 L433.00,381.50 L433.50,381.50 L434.00,381.50 L434.49,381.50 L434.99,381.50 L435.49,381.50 L435.99,381.50 L436.49,381.50 L436.99,381.50 L437.49,381.50 L437.99,381.50 L438.49,381.50 L438.99,381.50 L439.49,381.50 L439.99,381.50 L440.49,381.50 L440.99,381.50 L441.49,381.50 L441.99,381.50 L442.48,381.50 L442.98,381.50 L443.48,381.50 L443.98,381.50 L444.48,381.50 L444.98,381.50 L445.48,381.50 L445.98,381.50 L446.48,381.50 L446.98,381.50 L447.48,381.50 L447.98,381.50 L448.48,381.50 L448.98,381.50 L449.48,381.50 L449.98,381.50 L450.48,381.50 L450.97,381.50 L451.47,381.50 L451.97,381.50 L452.47,381.50 L452.97,381.50 L453.47,381.50 L453.97,381.50 L454.47,381.50 L454.97,381.50 L455.47,381.50 L455.97,381.50 L456.47,381.50 L456.97,381.50 L457.47,381.50 L457.97,381.50 L458.47,381.50 L458.96,381.50 L459.46,381.50 L459.96,381.50 L460.46,381.50 L460.96,381.50 L461.46,381.50 L461.96,381.50 L462.46,381.50 L462.96,381.50 L463.46,381.50 L463.96,381.50 L464.46,381.50 L464.96,381.50 L465.46,381.50 L465.96,381.50 L466.46,381.50 L466.95,381.50 L467.45,381.50 L467.95,381.50 L468.45,381.50 L468.95,381.50 L469.45,381.50 L469.95,381.50 L470.45,381.50 L470.95,381.50 L471.45,381.50 L471.95,381.50 L472.45,381.50 L472.95,381.50 L473.45,381.50 L473.95,381.50 L474.45,381.50 L474.95,381.50 L475.44,381.50 L475.94,381.50 L476.44,381.50 L476.94,381.50 L477.44,381.50 L477.94,381.50 L478.44,381.50 L478.94,381.50 L479.44,381.50 L479.94,381.50 L480.44,381.50 L480.94,381.50 L481.44,381.50 L481.94,381.50 L482.44,381.50 L482.94,381.50 L483.43,381.50 L483.93,381.50 L484.43,381.50 L484.93,381.50 L485.43,381.50 L485.93,381.50 L486.43,381.50 L486.93,381.50 L487.43,381.50 L487.93,381.50 L488.43,381.50 L488.93,381.50 L489.43,381.50 L489.93,381.50 L490.43,381.50 L490.93,381.50 L491.42,381.50 L491.92,381.50 L492.42,381.50 L492.92,381.50 L493.42,381.50 L493.92,381.50 L494.42,381.50 L494.92,381.50 L495.42,381.50 L495.92,381.50 L496.42,381.50 L496.92,381.50 L497.42,381.50 L497.92,381.50 L498.42,381.50 L498.92,381.50 L499.42,381.50 L499.91,381.50 L500.41,381.50 L500.91,381.50 L501.41,381.50 L501.91,381.50 L502.41,381.50 L502.91,381.50 L503.41,381.50 L503.91,381.50 L504.41,381.50 L504.91,381.50 L505.41,381.50 L505.91,381.50 L506.41,381.50 L506.91,381.50 L507.41,381.50 L507.90,381.50 L508.40,381.50 L508.90,381.50 L509.40,381.50 L509.90,381.50 L510.40,381.50 L510.90,381.50 L511.40,381.50 L511.90,381.50" fill="none" stroke="#005fc6" stroke-width="2.3" stroke-dasharray="1.85 1.3"/>
<path d="M317.40,388.30 L317.90,388.30 L318.39,388.30 L318.89,388.30 L319.38,388.30 L319.88,388.30 L320.37,388.30 L320.87,388.30 L321.36,388.30 L321.86,388.30 L322.35,388.30 L322.85,388.30 L323.34,388.30 L323.84,388.30 L324.33,388.30 L324.83,388.30 L325.33,388.30 L325.82,388.30 L326.32,388.30 L326.81,388.30 L327.31,388.30 L327.80,388.30 L328.30,388.30 L328.79,388.30 L329.29,388.30 L329.78,388.30 L330.28,388.30 L330.77,388.30 L331.27,388.30 L331.77,388.30 L332.26,388.30 L332.76,388.30 L333.25,388.30 L333.75,388.30 L334.24,388.30 L334.74,388.30 L335.23,388.30 L335.73,388.30 L336.22,388.30 L336.72,388.30 L337.21,388.30 L337.71,388.30 L338.20,388.30 L338.70,388.30 L339.20,388.30 L339.69,388.30 L340.19,388.30 L340.68,388.30 L341.18,388.30 L341.67,388.30 L342.17,388.30 L342.66,388.30 L343.16,388.30 L343.65,388.30 L344.15,388.30 L344.64,388.30 L345.14,388.30 L345.63,388.30 L346.13,388.30 L346.63,388.30 L347.12,388.30 L347.62,388.30 L348.11,388.30 L348.61,388.30 L349.10,388.30 L349.60,388.30 L350.09,388.30 L350.59,388.30 L351.08,388.30 L351.58,388.30 L352.07,388.30 L352.57,388.30 L353.07,388.30 L353.56,388.30 L354.06,388.30 L354.55,388.30 L355.05,388.30 L355.54,388.30 L356.04,388.30 L356.53,388.30 L357.03,388.30 L357.52,388.30 L358.02,388.30 L358.51,388.30 L359.01,388.30 L359.50,388.30 L360.00,388.30 L360.49,388.29 L360.98,388.27 L361.48,388.23 L361.97,388.17 L362.46,388.11 L362.95,388.03 L363.44,387.94 L363.93,387.85 L364.42,387.74 L364.92,387.63 L365.41,387.52 L365.90,387.40 L366.38,387.27 L366.86,387.10 L367.34,386.90 L367.82,386.67 L368.30,386.41 L368.78,386.13 L369.26,385.82 L369.74,385.50 L370.22,385.16 L370.70,384.80 L371.17,384.41 L371.64,383.97 L372.11,383.48 L372.58,382.93 L373.05,382.35 L373.52,381.72 L373.99,381.06 L374.46,380.36 L374.93,379.64 L375.40,378.90 L375.83,378.17 L376.27,377.36 L376.70,376.49 L377.13,375.55 L377.57,374.55 L378.00,373.50 L378.42,372.37 L378.84,371.10 L379.26,369.76 L379.68,368.41 L380.10,367.10 L380.58,365.60 L381.06,364.03 L381.54,362.51 L382.02,361.13 L382.50,360.00 L382.92,359.11 L383.34,358.22 L383.76,357.45 L384.18,356.91 L384.60,356.70 L385.08,357.17 L385.55,358.41 L386.02,360.11 L386.50,362.00 L386.95,364.62 L387.40,368.21 L387.85,371.75 L388.30,374.20 L388.77,375.75 L389.25,377.05 L389.73,378.02 L390.20,378.60 L390.65,378.91 L391.10,379.17 L391.55,379.34 L392.00,379.40 L392.50,379.22 L393.00,378.75 L393.50,378.10 L394.00,377.40 L394.50,376.60 L395.00,375.59 L395.50,374.39 L396.00,373.02 L396.50,371.50 L397.00,369.69 L397.50,367.49 L398.00,364.92 L398.50,362.00 L398.92,359.06 L399.34,355.55 L399.76,351.65 L400.18,347.57 L400.60,343.50 L401.00,339.51 L401.40,335.30 L401.80,331.07 L402.20,327.00 L402.70,322.30 L403.20,317.75 L403.70,313.00 L404.20,307.32 L404.70,301.41 L405.20,297.00 L405.60,294.53 L406.00,292.53 L406.40,291.70 L406.80,292.53 L407.20,294.54 L407.60,297.00 L408.08,300.98 L408.55,306.46 L409.02,312.46 L409.50,318.00 L410.00,323.08 L410.50,328.00 L411.00,333.00 L411.50,338.32 L412.00,343.50 L412.43,347.67 L412.87,351.76 L413.30,355.72 L413.73,359.49 L414.17,363.04 L414.60,366.30 L415.10,369.89 L415.60,373.38 L416.10,376.59 L416.60,379.35 L417.10,381.50 L417.60,383.28 L418.10,384.95 L418.60,386.37 L419.10,387.37 L419.60,387.80 L420.09,387.89 L420.58,387.98 L421.07,388.05 L421.56,388.11 L422.05,388.16 L422.55,388.21 L423.04,388.24 L423.53,388.27 L424.02,388.29 L424.51,388.30 L425.00,388.30 L425.50,388.30 L426.00,388.30 L426.50,388.30 L427.00,388.30 L427.50,388.30 L428.00,388.30 L428.50,388.30 L429.00,388.30 L429.49,388.30 L429.99,388.30 L430.49,388.30 L430.99,388.30 L431.49,388.30 L431.99,388.30 L432.49,388.30 L432.99,388.30 L433.49,388.30 L433.99,388.30 L434.49,388.30 L434.99,388.30 L435.49,388.30 L435.99,388.30 L436.49,388.30 L436.99,388.30 L437.49,388.30 L437.99,388.30 L438.48,388.30 L438.98,388.30 L439.48,388.30 L439.98,388.30 L440.48,388.30 L440.98,388.30 L441.48,388.30 L441.98,388.30 L442.48,388.30 L442.98,388.30 L443.48,388.30 L443.98,388.30 L444.48,388.30 L444.98,388.30 L445.48,388.30 L445.98,388.30 L446.48,388.30 L446.97,388.30 L447.47,388.30 L447.97,388.30 L448.47,388.30 L448.97,388.30 L449.47,388.30 L449.97,388.30 L450.47,388.30 L450.97,388.30 L451.47,388.30 L451.97,388.30 L452.47,388.30 L452.97,388.30 L453.47,388.30 L453.97,388.30 L454.47,388.30 L454.97,388.30 L455.46,388.30 L455.96,388.30 L456.46,388.30 L456.96,388.30 L457.46,388.30 L457.96,388.30 L458.46,388.30 L458.96,388.30 L459.46,388.30 L459.96,388.30 L460.46,388.30 L460.96,388.30 L461.46,388.30 L461.96,388.30 L462.46,388.30 L462.96,388.30 L463.46,388.30 L463.96,388.30 L464.45,388.30 L464.95,388.30 L465.45,388.30 L465.95,388.30 L466.45,388.30 L466.95,388.30 L467.45,388.30 L467.95,388.30 L468.45,388.30 L468.95,388.30 L469.45,388.30 L469.95,388.30 L470.45,388.30 L470.95,388.30 L471.45,388.30 L471.95,388.30 L472.45,388.30 L472.94,388.30 L473.44,388.30 L473.94,388.30 L474.44,388.30 L474.94,388.30 L475.44,388.30 L475.94,388.30 L476.44,388.30 L476.94,388.30 L477.44,388.30 L477.94,388.30 L478.44,388.30 L478.94,388.30 L479.44,388.30 L479.94,388.30 L480.44,388.30 L480.94,388.30 L481.44,388.30 L481.93,388.30 L482.43,388.30 L482.93,388.30 L483.43,388.30 L483.93,388.30 L484.43,388.30 L484.93,388.30 L485.43,388.30 L485.93,388.30 L486.43,388.30 L486.93,388.30 L487.43,388.30 L487.93,388.30 L488.43,388.30 L488.93,388.30 L489.43,388.30 L489.93,388.30 L490.42,388.30 L490.92,388.30 L491.42,388.30 L491.92,388.30 L492.42,388.30 L492.92,388.30 L493.42,388.30 L493.92,388.30 L494.42,388.30 L494.92,388.30 L495.42,388.30 L495.92,388.30 L496.42,388.30 L496.92,388.30 L497.42,388.30 L497.92,388.30 L498.42,388.30 L498.91,388.30 L499.41,388.30 L499.91,388.30 L500.41,388.30 L500.91,388.30 L501.41,388.30 L501.91,388.30 L502.41,388.30 L502.91,388.30 L503.41,388.30 L503.91,388.30 L504.41,388.30 L504.91,388.30 L505.41,388.30 L505.91,388.30 L506.41,388.30 L506.91,388.30 L507.41,388.30 L507.90,388.30 L508.40,388.30 L508.90,388.30 L509.40,388.30 L509.90,388.30 L510.40,388.30 L510.90,388.30 L511.40,388.30 L511.90,388.30" fill="none" stroke="#ff4300" stroke-width="2.3" stroke-linejoin="round"/>
</g>
<rect x="317.40" y="228.40" width="194.50" height="159.90" fill="none" stroke="#5a5a5a" stroke-width="1"/>
<path d="M341.71,388.30v-2.2M341.71,228.40v2.2M390.34,388.30v-2.2M390.34,228.40v2.2M438.96,388.30v-2.2M438.96,228.40v2.2M487.59,388.30v-2.2M487.59,228.40v2.2M317.40,388.30h2.2M317.40,359.23h2.2M317.40,330.15h2.2M317.40,301.08h2.2M317.40,272.01h2.2M317.40,242.94h2.2M511.90,388.30h-2.2M511.90,356.32h-2.2M511.90,324.34h-2.2M511.90,292.36h-2.2M511.90,260.38h-2.2M511.90,228.40h-2.2" stroke="#5a5a5a" stroke-width="1" fill="none"/>
<rect x="433.60" y="228.40" width="77.30" height="23.00" fill="#fff" stroke="#5a5a5a" stroke-width="0.9"/>
<path d="M436.80,234.84H466.60" stroke="#005fc6" stroke-width="2.3" stroke-dasharray="1.85 1.3"/>
<path d="M436.80,244.96H468.10" stroke="#ff4300" stroke-width="2.3"/>
</g>
<g class="txt">
<text x="187.50" y="24.52" font-size="8.45" text-anchor="start" class="lab">TG curve</text>
<text x="187.50" y="34.78" font-size="8.45" text-anchor="start" class="lab">DTG curve</text>
<text x="63.15" y="184.60" font-size="10" text-anchor="middle" >400</text>
<text x="112.65" y="184.60" font-size="10" text-anchor="middle" >600</text>
<text x="162.15" y="184.60" font-size="10" text-anchor="middle" >800</text>
<text x="211.65" y="184.60" font-size="10" text-anchor="middle" >1000</text>
<text x="34.10" y="173.70" font-size="10" text-anchor="end" >0</text>
<text x="34.10" y="144.12" font-size="10" text-anchor="end" >20</text>
<text x="34.10" y="114.54" font-size="10" text-anchor="end" >40</text>
<text x="34.10" y="84.95" font-size="10" text-anchor="end" >60</text>
<text x="34.10" y="55.37" font-size="10" text-anchor="end" >80</text>
<text x="34.10" y="25.79" font-size="10" text-anchor="end" >100</text>
<text x="241.10" y="173.10" font-size="10" text-anchor="start" >0</text>
<text x="241.10" y="140.56" font-size="10" text-anchor="start" >0.5</text>
<text x="241.10" y="108.02" font-size="10" text-anchor="start" >1</text>
<text x="241.10" y="75.48" font-size="10" text-anchor="start" >1.5</text>
<text x="241.10" y="42.94" font-size="10" text-anchor="start" >2</text>
<text x="241.10" y="10.40" font-size="10" text-anchor="start" >2.5</text>
<text x="137.00" y="198.80" font-size="11.4" text-anchor="middle" class="lab" textLength="72.3" lengthAdjust="spacingAndGlyphs">Temperature, K</text>
<text x="137.60" y="217.90" font-size="11.6" text-anchor="middle" class="cap" textLength="52.0" lengthAdjust="spacingAndGlyphs">(a) HDEPS</text>
<text transform="translate(12.40,88.30) rotate(-90)" font-size="11.6" text-anchor="middle" class="lab" textLength="93.5" lengthAdjust="spacingAndGlyphs">% of sample weight</text>
<text transform="translate(269.50,88.60) rotate(-90)" font-size="11.6" text-anchor="middle" class="lab" textLength="172.5" lengthAdjust="spacingAndGlyphs">Thermal degradation rate DTG, %/K</text>
<text x="472.00" y="18.05" font-size="8.25" text-anchor="start" class="lab">TG curve</text>
<text x="472.00" y="28.35" font-size="8.25" text-anchor="start" class="lab">DTG curve</text>
<text x="342.00" y="183.80" font-size="10" text-anchor="middle" >400</text>
<text x="390.80" y="183.80" font-size="10" text-anchor="middle" >600</text>
<text x="439.60" y="183.80" font-size="10" text-anchor="middle" >800</text>
<text x="488.40" y="183.80" font-size="10" text-anchor="middle" >1000</text>
<text x="313.30" y="172.90" font-size="10" text-anchor="end" >0</text>
<text x="313.30" y="143.74" font-size="10" text-anchor="end" >20</text>
<text x="313.30" y="114.57" font-size="10" text-anchor="end" >40</text>
<text x="313.30" y="85.41" font-size="10" text-anchor="end" >60</text>
<text x="313.30" y="56.25" font-size="10" text-anchor="end" >80</text>
<text x="313.30" y="27.08" font-size="10" text-anchor="end" >100</text>
<text x="517.50" y="172.30" font-size="10" text-anchor="start" >0</text>
<text x="517.50" y="140.22" font-size="10" text-anchor="start" >0.5</text>
<text x="517.50" y="108.14" font-size="10" text-anchor="start" >1</text>
<text x="517.50" y="76.06" font-size="10" text-anchor="start" >1.5</text>
<text x="517.50" y="43.98" font-size="10" text-anchor="start" >2</text>
<text x="517.50" y="11.90" font-size="10" text-anchor="start" >2.5</text>
<text x="414.50" y="197.90" font-size="11.4" text-anchor="middle" class="lab" textLength="71.1" lengthAdjust="spacingAndGlyphs">Temperature, K</text>
<text x="415.90" y="218.00" font-size="11.6" text-anchor="middle" class="cap" textLength="50.3" lengthAdjust="spacingAndGlyphs">(b) LDEPS</text>
<text transform="translate(292.50,88.50) rotate(-90)" font-size="11.6" text-anchor="middle" class="lab" textLength="93.2" lengthAdjust="spacingAndGlyphs">% of sample weight</text>
<text transform="translate(545.00,89.20) rotate(-90)" font-size="11.6" text-anchor="middle" class="lab" textLength="168.6" lengthAdjust="spacingAndGlyphs">Thermal degradation rate DTG, %/K</text>
<text x="192.40" y="237.84" font-size="8.3" text-anchor="start" class="lab">TG curve</text>
<text x="192.40" y="247.96" font-size="8.3" text-anchor="start" class="lab">DTG curve</text>
<text x="62.95" y="403.20" font-size="10" text-anchor="middle" >400</text>
<text x="111.65" y="403.20" font-size="10" text-anchor="middle" >600</text>
<text x="160.35" y="403.20" font-size="10" text-anchor="middle" >800</text>
<text x="209.05" y="403.20" font-size="10" text-anchor="middle" >1000</text>
<text x="34.30" y="392.30" font-size="10" text-anchor="end" >0</text>
<text x="34.30" y="363.23" font-size="10" text-anchor="end" >20</text>
<text x="34.30" y="334.15" font-size="10" text-anchor="end" >40</text>
<text x="34.30" y="305.08" font-size="10" text-anchor="end" >60</text>
<text x="34.30" y="276.01" font-size="10" text-anchor="end" >80</text>
<text x="34.30" y="246.94" font-size="10" text-anchor="end" >100</text>
<text x="238.10" y="391.70" font-size="10" text-anchor="start" >0</text>
<text x="238.10" y="359.72" font-size="10" text-anchor="start" >0.5</text>
<text x="238.10" y="327.74" font-size="10" text-anchor="start" >1</text>
<text x="238.10" y="295.76" font-size="10" text-anchor="start" >1.5</text>
<text x="238.10" y="263.78" font-size="10" text-anchor="start" >2</text>
<text x="238.10" y="231.80" font-size="10" text-anchor="start" >2.5</text>
<text x="135.20" y="416.90" font-size="11.4" text-anchor="middle" class="lab" textLength="70.5" lengthAdjust="spacingAndGlyphs">Temperature, K</text>
<text x="137.30" y="437.00" font-size="11.6" text-anchor="middle" class="cap" textLength="36.2" lengthAdjust="spacingAndGlyphs">(c) EVA</text>
<text transform="translate(13.10,308.80) rotate(-90)" font-size="11.6" text-anchor="middle" class="lab" textLength="91.0" lengthAdjust="spacingAndGlyphs">% of sample weight</text>
<text transform="translate(266.30,309.05) rotate(-90)" font-size="11.6" text-anchor="middle" class="lab" textLength="168.8" lengthAdjust="spacingAndGlyphs">Thermal degradation rate DTG, %/K</text>
<text x="471.10" y="237.84" font-size="8.25" text-anchor="start" class="lab">TG curve</text>
<text x="471.10" y="247.96" font-size="8.25" text-anchor="start" class="lab">DTG curve</text>
<text x="341.71" y="403.20" font-size="10" text-anchor="middle" >400</text>
<text x="390.34" y="403.20" font-size="10" text-anchor="middle" >600</text>
<text x="438.96" y="403.20" font-size="10" text-anchor="middle" >800</text>
<text x="487.59" y="403.20" font-size="10" text-anchor="middle" >1000</text>
<text x="313.10" y="392.30" font-size="10" text-anchor="end" >0</text>
<text x="313.10" y="363.23" font-size="10" text-anchor="end" >20</text>
<text x="313.10" y="334.15" font-size="10" text-anchor="end" >40</text>
<text x="313.10" y="305.08" font-size="10" text-anchor="end" >60</text>
<text x="313.10" y="276.01" font-size="10" text-anchor="end" >80</text>
<text x="313.10" y="246.94" font-size="10" text-anchor="end" >100</text>
<text x="516.60" y="391.70" font-size="10" text-anchor="start" >0</text>
<text x="516.60" y="359.72" font-size="10" text-anchor="start" >0.5</text>
<text x="516.60" y="327.74" font-size="10" text-anchor="start" >1</text>
<text x="516.60" y="295.76" font-size="10" text-anchor="start" >1.5</text>
<text x="516.60" y="263.78" font-size="10" text-anchor="start" >2</text>
<text x="516.60" y="231.80" font-size="10" text-anchor="start" >2.5</text>
<text x="413.90" y="417.00" font-size="11.4" text-anchor="middle" class="lab" textLength="70.8" lengthAdjust="spacingAndGlyphs">Temperature, K</text>
<text x="414.70" y="437.10" font-size="11.6" text-anchor="middle" class="cap" textLength="44.6" lengthAdjust="spacingAndGlyphs">(d) LDPU</text>
<text transform="translate(291.80,308.40) rotate(-90)" font-size="11.6" text-anchor="middle" class="lab" textLength="91.2" lengthAdjust="spacingAndGlyphs">% of sample weight</text>
<text transform="translate(544.50,308.65) rotate(-90)" font-size="11.6" text-anchor="middle" class="lab" textLength="168.6" lengthAdjust="spacingAndGlyphs">Thermal degradation rate DTG, %/K</text>
</g>
</svg>
</body></html>
